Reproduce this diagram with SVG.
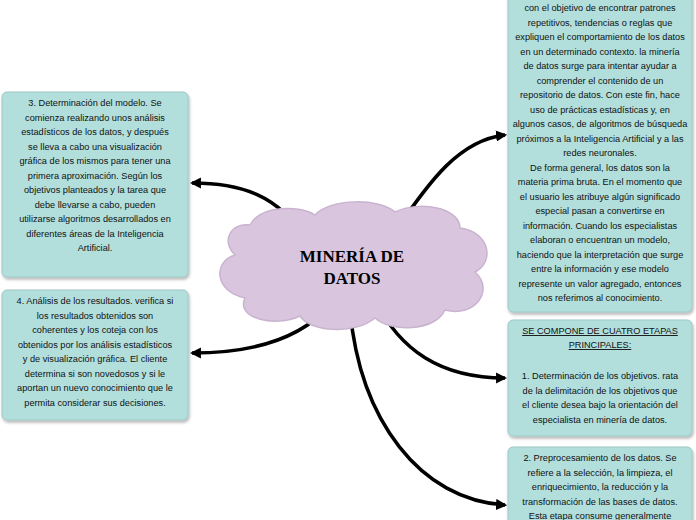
<svg xmlns="http://www.w3.org/2000/svg" width="696" height="520" viewBox="0 0 696 520">
<defs>
<style>
.box{fill:#b2dfdc;stroke:#9cc7c4;stroke-width:1}
.t{font-family:"Liberation Sans",Arial,sans-serif;font-size:9.2px;fill:#111;text-anchor:middle}
.c{fill:none;stroke:#000;stroke-width:3.5}
</style>
<marker id="a" viewBox="0 0 10 10" refX="8" refY="5" markerWidth="3.2" markerHeight="3.2" orient="auto"><path d="M0,0 L10,5 L0,10 z" fill="#000"/></marker>
<filter id="s" x="-5%" y="-5%" width="110%" height="110%"><feDropShadow dx="1" dy="2" stdDeviation="1.5" flood-opacity="0.3"/></filter>
</defs>
<rect width="696" height="520" fill="#fff"/>
<g id="connectors">
<path class="c" d="M305,240 C280,195 240,183 192,183" marker-end="url(#a)"/>
<path class="c" d="M330,305 C300,340 250,353 192,353" marker-end="url(#a)"/>
<path class="c" d="M395,232 C430,180 460,140 505,135" marker-end="url(#a)"/>
<path class="c" d="M375,300 C400,350 440,378 505,378" marker-end="url(#a)"/>
<path class="c" d="M350,310 C360,420 420,500 505,505" marker-end="url(#a)"/>
</g>
<g id="center">
<path d="M250,225 C260,205 300,205 315,215 C330,198 380,198 395,212 C420,200 460,208 460,228 C490,232 495,262 475,272 C495,290 475,318 445,310 C435,332 390,332 375,318 C355,335 310,332 300,316 C275,328 235,318 245,298 C215,292 212,262 235,255 C220,240 232,222 250,225 Z" fill="#d9c6de" stroke="#c9b3cf" stroke-width="1.5"/>
<text x="352" y="262" font-family="Liberation Serif,serif" font-size="17" font-weight="bold" text-anchor="middle">MINERÍA DE</text>
<text x="352" y="284" font-family="Liberation Serif,serif" font-size="17" font-weight="bold" text-anchor="middle">DATOS</text>
</g>
<g id="n-intro">
<rect class="box" x="508" y="-12" width="184" height="324" rx="5" filter="url(#s)"/>
<g class="t">
<text x="600" y="11">con el objetivo de encontrar patrones</text>
<text x="600" y="25.5">repetitivos, tendencias o reglas que</text>
<text x="600" y="40">expliquen el comportamiento de los datos</text>
<text x="600" y="54.5">en un determinado contexto. la minería</text>
<text x="600" y="69">de datos surge para intentar ayudar a</text>
<text x="600" y="83.5">comprender el contenido de un</text>
<text x="600" y="98">repositorio de datos. Con este fin, hace</text>
<text x="600" y="112.5">uso de prácticas estadísticas y, en</text>
<text x="600" y="127">algunos casos, de algoritmos de búsqueda</text>
<text x="600" y="141.5">próximos a la Inteligencia Artificial y a las</text>
<text x="600" y="156">redes neuronales.</text>
<text x="600" y="170.5">De forma general, los datos son la</text>
<text x="600" y="185">materia prima bruta. En el momento que</text>
<text x="600" y="199.5">el usuario les atribuye algún significado</text>
<text x="600" y="214">especial pasan a convertirse en</text>
<text x="600" y="228.5">información. Cuando los especialistas</text>
<text x="600" y="243">elaboran o encuentran un modelo,</text>
<text x="600" y="257.5">haciendo que la interpretación que surge</text>
<text x="600" y="272">entre la información y ese modelo</text>
<text x="600" y="286.5">represente un valor agregado, entonces</text>
<text x="600" y="301">nos referimos al conocimiento.</text>
</g>
</g>
<g id="n-etapa1">
<rect class="box" x="508" y="320" width="184" height="116" rx="5" filter="url(#s)"/>
<g class="t">
<text x="600" y="334" text-decoration="underline">SE COMPONE DE CUATRO ETAPAS</text>
<text x="600" y="348" text-decoration="underline">PRINCIPALES:</text>
<text x="600" y="379">1. Determinación de los objetivos. rata</text>
<text x="600" y="393.5">de la delimitación de los objetivos que</text>
<text x="600" y="408">el cliente desea bajo la orientación del</text>
<text x="600" y="422.5">especialista en minería de datos.</text>
</g>
</g>
<g id="n-etapa2">
<rect class="box" x="508" y="447" width="184" height="90" rx="5" filter="url(#s)"/>
<g class="t">
<text x="600" y="461">2. Preprocesamiento de los datos. Se</text>
<text x="600" y="475.5">refiere a la selección, la limpieza, el</text>
<text x="600" y="490">enriquecimiento, la reducción y la</text>
<text x="600" y="504.5">transformación de las bases de datos.</text>
<text x="600" y="519">Esta etapa consume generalmente</text>
</g>
</g>
<g id="n-etapa3">
<rect class="box" x="2" y="92" width="186" height="185" rx="5" filter="url(#s)"/>
<g class="t">
<text x="95" y="106">3. Determinación del modelo. Se</text>
<text x="95" y="120.5">comienza realizando unos análisis</text>
<text x="95" y="135">estadísticos de los datos, y después</text>
<text x="95" y="149.5">se lleva a cabo una visualización</text>
<text x="95" y="164">gráfica de los mismos para tener una</text>
<text x="95" y="178.5">primera aproximación. Según los</text>
<text x="95" y="193">objetivos planteados y la tarea que</text>
<text x="95" y="207.5">debe llevarse a cabo, pueden</text>
<text x="95" y="222">utilizarse algoritmos desarrollados en</text>
<text x="95" y="236.5">diferentes áreas de la Inteligencia</text>
<text x="95" y="251">Artificial.</text>
</g>
</g>
<g id="n-etapa4">
<rect class="box" x="2" y="290" width="186" height="130" rx="5" filter="url(#s)"/>
<g class="t">
<text x="95" y="304">4. Análisis de los resultados. verifica si</text>
<text x="95" y="318.5">los resultados obtenidos son</text>
<text x="95" y="333">coherentes y los coteja con los</text>
<text x="95" y="347.5">obtenidos por los análisis estadísticos</text>
<text x="95" y="362">y de visualización gráfica. El cliente</text>
<text x="95" y="376.5">determina si son novedosos y si le</text>
<text x="95" y="391">aportan un nuevo conocimiento que le</text>
<text x="95" y="405.5">permita considerar sus decisiones.</text>
</g>
</g>
</svg>
